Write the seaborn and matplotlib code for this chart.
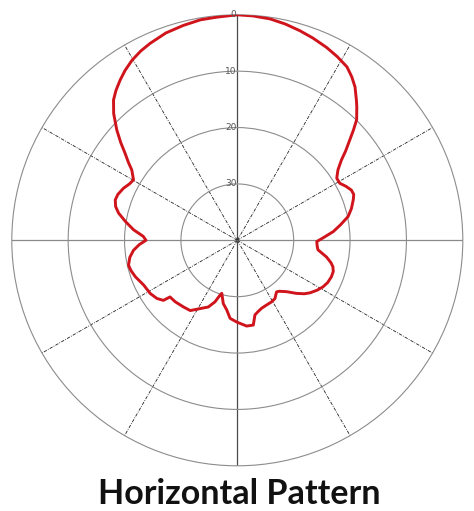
import numpy as np
import pandas as pd
import matplotlib
matplotlib.use("Agg")
import matplotlib.pyplot as plt
import seaborn as sns

# ---- data ----
angle_deg = [0, 4.0, 8.4, 12.5, 16.6, 20.5, 24.8, 28.5, 32.3, 35.0, 37.5, 40.4, 41.8,
             44.7, 46.5, 48.3, 50.5, 52.4, 55.0, 58.0,
             60.9, 63.5, 66.2, 68.5, 70.7, 74.5, 77.9, 81.5, 84.8, 88.0, 90.9, 94.0,
             96.7, 100.6, 103.5, 105.5, 108.0, 111.2, 115.0, 118.5, 122.0,
             125.9, 128.6, 131.9, 136.3, 140.6, 142.7, 145.1, 147.1, 150.9, 155.7,
             160.3, 164.0, 166.7, 169.3, 173.8, 180.4, 185.3, 188.6, 192.5, 196.3,
             197.5, 199.9, 203.5, 208.6, 213.8, 219.0, 225.3, 229.9, 230.9, 234.1,
             238.6, 244.4, 250.3, 254.0, 257.1, 261.0, 264.5, 267.5, 270.0, 272.4,
             275.8, 279.5, 282.9, 285.5, 288.3, 291.0, 294.6, 297.5, 300.2, 303.7,
             305.5, 307.8, 310.0, 312.5, 315.7, 318.6, 321.0, 323.8, 326.5, 329.7,
             333.0, 336.1, 341.0, 345.9, 350.5, 354.7, 360.0]
level_db = [0.0, -0.1, -0.3, -0.7, -1.2, -1.7, -2.3, -2.9, -3.6, -4.6, -5.7, -7.4, -8.2,
            -9.9, -11.6, -13.3, -15.1, -16.7, -18.2, -19.2,
            -19.2, -18.5, -17.9, -17.8, -18.2, -19.0, -19.9, -21.5, -22.9, -24.6, -25.9,
            -25.8, -25.6, -23.9, -22.9, -22.4, -22.1, -22.1, -22.3, -22.7, -23.3,
            -24.1, -24.8, -25.9, -27.4, -28.3, -28.5, -28.1, -27.7, -27.5, -27.4,
            -27.2, -26.8, -26.4, -24.7, -24.7, -25.5, -26.1, -27.5, -28.5, -30.2,
            -29.8, -28.4, -27.1, -26.2, -25.0, -24.8, -24.5, -24.4, -23.1, -22.4,
            -21.9, -21.6, -20.8, -20.4, -20.2, -20.7, -21.5, -22.6, -23.8, -23.3,
            -21.5, -19.9, -18.4, -17.6, -17.2, -17.3, -17.8, -18.4, -18.7, -17.5,
            -16.3, -14.8, -13.0, -11.0, -8.6, -6.8, -5.8, -4.8, -3.9, -3.0,
            -2.3, -1.8, -1.1, -0.7, -0.35, -0.25, 0.0]

ring_levels = [-30, -20, -10]
ring_labels = ["0", "10", "20", "30"]
ring_label_levels = [0, -10, -20, -30]
spoke_angles = list(range(0, 360, 30))
title = "Horizontal Pattern"

df = pd.DataFrame({"theta": np.deg2rad(angle_deg), "db": level_db})

sns.set_style("white")
plt.rcParams["font.family"] = ["DejaVu Sans"]

fig = plt.figure(figsize=(4.74, 5.11), dpi=100)
W, H = 474, 511
cx, cy, R = 237.3, 240.3, 225.5
ax = fig.add_axes([(cx - R) / W, (H - cy - R) / H, 2 * R / W, 2 * R / H],
                  projection="polar")
ax.set_theta_zero_location("N")
ax.set_theta_direction(-1)
ax.set_ylim(-40, 0)

ax.set_thetagrids(spoke_angles, labels=[""] * len(spoke_angles))
ax.set_rgrids(ring_levels, labels=[""] * len(ring_levels))
ax.grid(True)
for ang, gl in zip(spoke_angles, ax.xaxis.get_gridlines()):
    if ang % 90 == 0:
        gl.set_linestyle("-")
        gl.set_color("#4a4a4a" if ang in (0, 180) else "#8a8a8a")
        gl.set_linewidth(0.9)
    else:
        gl.set_linestyle((0, (4, 1.5, 1, 1.5)))
        gl.set_color("#222222")
        gl.set_linewidth(0.6)
for gl in ax.yaxis.get_gridlines():
    gl.set_linestyle("-")
    gl.set_color("#8c8c8c")
    gl.set_linewidth(0.8)
ax.spines["polar"].set_color("#8c8c8c")
ax.spines["polar"].set_linewidth(0.8)
ax.tick_params(length=0)

sns.lineplot(data=df, x="theta", y="db", sort=False, ax=ax, color="#d0141c",
             linewidth=2.1, legend=False, zorder=3)
ax.lines[-1].set_solid_joinstyle("round")
ax.set_xlabel("")
ax.set_ylabel("")

for lab, lv in zip(ring_labels, ring_label_levels):
    ax.annotate(lab, xy=(0, lv), xytext=(-0.5, 0), textcoords="offset points",
                ha="right", va="center", fontsize=6.5, color="#555555", zorder=5,
                annotation_clip=False)

fig.text(0.504, (H - 504) / H, title, ha="center", va="baseline",
         fontsize=24.5, fontweight="bold", family=["Lato", "DejaVu Sans"],
         color="#111111")

fig.savefig("out.png", dpi=100)
